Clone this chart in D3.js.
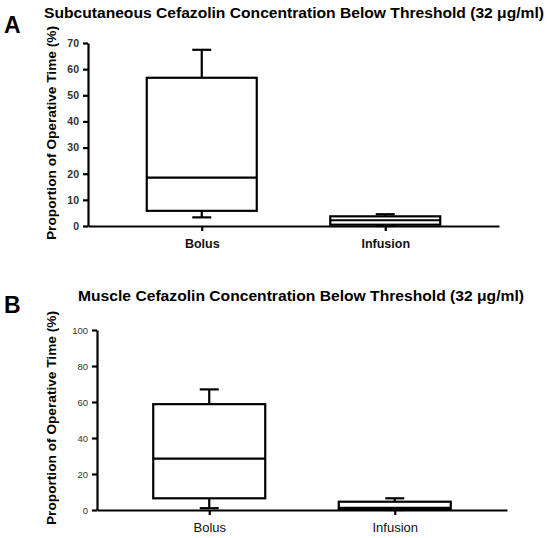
<!DOCTYPE html>
<html>
<head>
<meta charset="utf-8">
<script src="https://cdn.jsdelivr.net/npm/d3@7"></script>
<style>
  body { margin: 0; background: #fff; }
  text { font-family: "Liberation Sans", Arial, sans-serif; }
</style>
</head>
<body>
<div id="chart"></div>
<script>
// data (% of operative time below 32 ug/ml)
const groups = ["Bolus", "Infusion"];

const subcutMin    = [3.3, 0];
const subcutQ1     = [5.8, 0.5];
const subcutMedian = [18.5, 2.2];
const subcutQ3     = [56.7, 3.7];
const subcutMax    = [67.4, 4.5];

const muscleMin    = [1.0, 0];
const muscleQ1     = [6.5, 0.3];
const muscleMedian = [28.5, 1.2];
const muscleQ3     = [58.8, 4.6];
const muscleMax    = [67.0, 6.5];

const subcutTicks = [0, 10, 20, 30, 40, 50, 60, 70];
const muscleTicks = [0, 20, 40, 60, 80, 100];

const svg = d3.select("#chart").append("svg")
  .attr("width", 550)
  .attr("height", 538);

function drawPanel(opt) {
  const g = svg.append("g");

  const y = d3.scaleLinear().domain(opt.domain).range([opt.y0, opt.y1]);
  const x = d3.scalePoint().domain(groups).range([opt.x0, opt.x1]).padding(opt.pad);

  const rows = groups.map((k, i) => ({
    key: k, min: opt.min[i], q1: opt.q1[i], med: opt.med[i], q3: opt.q3[i], max: opt.max[i]
  }));

  // y axis
  const yAxis = g.append("g")
    .attr("transform", `translate(${opt.x0},0)`)
    .call(d3.axisLeft(y).tickValues(opt.ticks).tickSize(5).tickPadding(4).tickSizeOuter(0));
  yAxis.select(".domain").attr("stroke", "#000").attr("stroke-width", 2.2);
  yAxis.selectAll(".tick line").attr("stroke", "#000").attr("stroke-width", 2.2);
  yAxis.selectAll(".tick text")
    .attr("fill", "#333")
    .style("font-size", opt.tickSize)
    .style("font-weight", opt.bold ? "bold" : "normal");

  // x axis
  const xAxis = g.append("g")
    .attr("transform", `translate(0,${opt.y0})`)
    .call(d3.axisBottom(x).tickSize(5).tickPadding(8).tickSizeOuter(0));
  xAxis.select(".domain").attr("stroke", "#000").attr("stroke-width", 2.2);
  xAxis.selectAll(".tick line").attr("stroke", "#000").attr("stroke-width", 2.2);
  xAxis.selectAll(".tick text")
    .attr("fill", "#111")
    .style("font-size", opt.catSize)
    .style("font-weight", opt.bold ? "bold" : "normal");

  const bw = opt.boxWidth;
  const cw = 19;
  const box = g.selectAll(".box").data(rows).join("g").attr("class", "box");

  // whiskers
  box.append("line")
    .attr("x1", d => x(d.key)).attr("x2", d => x(d.key))
    .attr("y1", d => y(d.max)).attr("y2", d => y(d.q3))
    .attr("stroke", "#000").attr("stroke-width", 2.2);
  box.append("line")
    .attr("x1", d => x(d.key)).attr("x2", d => x(d.key))
    .attr("y1", d => y(d.min)).attr("y2", d => y(d.q1))
    .attr("stroke", "#000").attr("stroke-width", 2.2);
  box.append("line")
    .attr("x1", d => x(d.key) - cw / 2).attr("x2", d => x(d.key) + cw / 2)
    .attr("y1", d => y(d.max)).attr("y2", d => y(d.max))
    .attr("stroke", "#000").attr("stroke-width", 2.2);
  box.append("line")
    .attr("x1", d => x(d.key) - cw / 2).attr("x2", d => x(d.key) + cw / 2)
    .attr("y1", d => y(d.min)).attr("y2", d => y(d.min))
    .attr("stroke", "#000").attr("stroke-width", 2.2);

  // box + median
  box.append("rect")
    .attr("x", d => x(d.key) - bw / 2)
    .attr("width", bw)
    .attr("y", d => y(d.q3))
    .attr("height", d => y(d.q1) - y(d.q3))
    .attr("fill", "#fff")
    .attr("stroke", "#000").attr("stroke-width", 2.2);
  box.append("line")
    .attr("x1", d => x(d.key) - bw / 2).attr("x2", d => x(d.key) + bw / 2)
    .attr("y1", d => y(d.med)).attr("y2", d => y(d.med))
    .attr("stroke", "#000").attr("stroke-width", 2.2);

  // titles
  g.append("text")
    .attr("x", opt.titleX).attr("y", opt.titleY)
    .attr("text-anchor", "middle")
    .attr("textLength", opt.titleLen)
    .attr("lengthAdjust", "spacingAndGlyphs")
    .style("font-size", "14px").style("font-weight", "bold")
    .text(opt.title);

  g.append("text")
    .attr("transform", `translate(${opt.yTitleX},${opt.yTitleY}) rotate(-90)`)
    .attr("text-anchor", "middle")
    .attr("textLength", 214)
    .attr("lengthAdjust", "spacingAndGlyphs")
    .style("font-size", "13px").style("font-weight", "bold")
    .text("Proportion of Operative Time (%)");

  g.append("text")
    .attr("x", opt.letterX).attr("y", opt.letterY)
    .style("font-size", "23px").style("font-weight", "bold")
    .text(opt.letter);
}

drawPanel({
  letter: "A", letterX: 4, letterY: 33,
  title: "Subcutaneous Cefazolin Concentration Below Threshold (32 \u03bcg/ml)",
  titleX: 294, titleY: 18, titleLen: 500,
  yTitleX: 56, yTitleY: 133,
  domain: [0, 70], ticks: subcutTicks,
  y0: 226, y1: 43, x0: 88, x1: 499, pad: 0.62, boxWidth: 110,
  bold: true, tickSize: "10.5px", catSize: "12.5px",
  min: subcutMin, q1: subcutQ1, med: subcutMedian, q3: subcutQ3, max: subcutMax
});

drawPanel({
  letter: "B", letterX: 4, letterY: 313,
  title: "Muscle Cefazolin Concentration Below Threshold (32 \u03bcg/ml)",
  titleX: 301, titleY: 301, titleLen: 446,
  yTitleX: 56, yTitleY: 418,
  domain: [0, 100], ticks: muscleTicks,
  y0: 510, y1: 330, x0: 97, x1: 507, pad: 0.605, boxWidth: 112,
  bold: false, tickSize: "9.5px", catSize: "13px",
  min: muscleMin, q1: muscleQ1, med: muscleMedian, q3: muscleQ3, max: muscleMax
});
</script>
</body>
</html>
